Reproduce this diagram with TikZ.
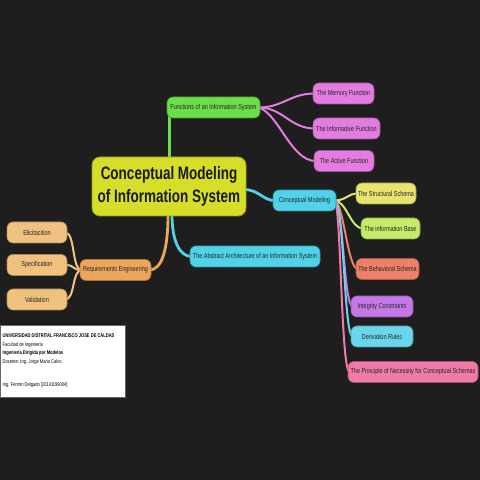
\documentclass[tikz,border=0pt]{standalone}
\usepackage{fontspec}
\setmainfont{Liberation Sans}
\newfontfamily\nodefont[FakeStretch=0.75]{Liberation Sans}
\newfontfamily\titlefont[FakeStretch=0.75]{Liberation Sans}
\usetikzlibrary{calc,backgrounds}
\definecolor{bg}{RGB}{30,30,30}
\definecolor{cyellow}{RGB}{214,222,42}
\definecolor{cgreen}{RGB}{108,222,72}
\definecolor{cpink}{RGB}{226,124,222}
\definecolor{ccyan}{RGB}{80,210,232}
\definecolor{cstr}{RGB}{232,228,112}
\definecolor{cib}{RGB}{196,236,104}
\definecolor{cbeh}{RGB}{238,128,106}
\definecolor{cic}{RGB}{198,120,232}
\definecolor{cdr}{RGB}{106,214,236}
\definecolor{cpn}{RGB}{240,122,168}
\definecolor{corange}{RGB}{236,166,92}
\definecolor{cpeach}{RGB}{240,194,128}
\begin{document}
\begin{tikzpicture}[x=1pt,y=1pt,
  box/.style={rounded corners=6pt, minimum height=21pt, inner sep=1pt,
    font=\nodefont\fontsize{7.3}{8}\selectfont, text=black!85, line width=0.6pt},
  link/.style={line width=2pt, line cap=round},
  biglink/.style={line width=2.8pt, line cap=round}]
\useasboundingbox (0,0) rectangle (480,480);

% nodes
\node[rounded corners=8pt, fill=cyellow, draw=cyellow!70!black, line width=0.8pt,
  minimum width=154pt, minimum height=59pt, inner sep=1pt, align=center,
  font=\titlefont\bfseries\fontsize{18}{23}\selectfont, text=black!90] (central) at (169,293.5)
  {Conceptual Modeling\\of Information System};
\node[box, fill=cgreen, draw=cgreen!70!black, minimum width=93pt] (func) at (213.5,372.5) {Functions of an Information System};
\node[box, fill=cpink, draw=cpink!70!black, minimum width=61pt] (mem) at (343.5,386.5) {The Memory Function};
\node[box, fill=cpink, draw=cpink!70!black, minimum width=67pt] (inf) at (346.5,351.5) {The Informative Function};
\node[box, fill=cpink, draw=cpink!70!black, minimum width=60pt] (act) at (344,319) {The Active Function};
\node[box, fill=ccyan, draw=ccyan!70!black, minimum width=63pt] (cm) at (304.5,279.5) {Conceptual Modeling};
\node[box, fill=cstr, draw=cstr!70!black, minimum width=60pt] (str) at (386,286.5) {The Structural Schema};
\node[box, fill=cib, draw=cib!70!black, minimum width=59pt] (ib) at (390.5,251.5) {The information Base};
\node[box, fill=cbeh, draw=cbeh!70!black, minimum width=63pt] (beh) at (387.5,211) {The Behavioral Schema};
\node[box, fill=cic, draw=cic!70!black, minimum width=62pt] (ic) at (382,173.5) {Integrity Constraints};
\node[box, fill=cdr, draw=cdr!70!black, minimum width=62pt] (dr) at (382,143.5) {Derivation Rules};
\node[box, fill=cpn, draw=cpn!70!black, minimum width=130pt] (pn) at (413,108) {The Principle of Necessity for Conceptual Schemas};
\node[box, fill=ccyan, draw=ccyan!70!black, minimum width=130pt] (abs) at (255,223.5) {The Abstract Architecture of an Information System};
\node[box, fill=corange, draw=corange!70!black, minimum width=71pt] (req) at (115.5,210) {Requirements Engineering};
\node[box, fill=cpeach, draw=cpeach!70!black, minimum width=60pt] (eli) at (37,247.5) {Elicitacition};
\node[box, fill=cpeach, draw=cpeach!70!black, minimum width=60pt] (spe) at (37,215) {Specification};
\node[box, fill=cpeach, draw=cpeach!70!black, minimum width=60pt] (val) at (37,180.5) {Validation};

% info box
\node[draw=black!60, fill=white, minimum width=125pt, minimum height=72pt, anchor=north west,
  inner sep=0pt, line width=0.8pt] (infobox) at (0,155) {};
\node[anchor=north west, align=left, inner sep=0pt, text=black,
  font=\nodefont\fontsize{5.4}{8.6}\selectfont] (infotext) at (2.5,146.5)
  {\textbf{UNIVERSIDAD DISTRITAL FRANCISCO JOSE DE CALDAS}\\
   Facultad de Ingeniería\\
   \textbf{Ingeniería Dirigida por Modelos}\\
   Docente: Ing. Jorge Mario Calvo\\[15pt]
   Ing. Fermin Delgado [20141199004]};

\begin{scope}[on background layer]
\fill[bg] (0,0) rectangle (480,480);
% central connectors
\draw[biglink, cgreen] ($(central.north)+(0.5,-2)$) -- ($(central.north |- func.south)+(0.5,4)$);
\draw[biglink, ccyan] ($(central.east)+(-3,-3)$) .. controls +(16,0) and +(-12,0) .. ($(cm.west)+(2,0)$);
\draw[biglink, ccyan] ($(central.south)+(3,2)$) .. controls +(0,-27) and +(-12,0) .. ($(abs.west)+(2,0)$);
\draw[biglink, corange] ($(central.south)+(-1,2)$) .. controls +(0,-37) and +(12,0) .. ($(req.east)+(-2,0)$);
% functions
\draw[link, cpink] ($(func.east)+(-2,0)$) .. controls +(25,0) and +(-25,0) .. ($(mem.west)+(2,0)$);
\draw[link, cpink] ($(func.east)+(-2,0)$) .. controls +(25,0) and +(-25,0) .. ($(inf.west)+(2,0)$);
\draw[link, cpink] ($(func.east)+(-2,0)$) .. controls +(20,-5) and +(-25,0) .. ($(act.west)+(2,0)$);
% conceptual modeling
\draw[link, cstr] ($(cm.east)+(-2,0)$) .. controls +(12,0) and +(-10,0) .. ($(str.west)+(2,0)$);
\draw[link, cib] ($(cm.east)+(-2,0)$) .. controls +(12,0) and +(-12,0) .. ($(ib.west)+(2,0)$);
\draw[link, cbeh] ($(cm.east)+(-2,0)$) .. controls +(9,0) and +(-10,0) .. ($(beh.west)+(2,0)$);
\draw[link, cic] ($(cm.east)+(-2,0)$) .. controls +(9,0) and +(-9,0) .. ($(ic.west)+(2,0)$);
\draw[link, cdr] ($(cm.east)+(-2,0)$) .. controls +(10,0) and +(-9,0) .. ($(dr.west)+(2,0)$);
\draw[link, cpn] ($(cm.east)+(-2,0)$) .. controls +(7,0) and +(-9,0) .. ($(pn.west)+(2,0)$);
% requirements
\draw[link, cpeach] ($(req.west)+(2,0)$) .. controls +(-10,0) and +(10,0) .. ($(eli.east)+(-2,0)$);
\draw[link, cpeach] ($(req.west)+(2,0)$) .. controls +(-10,0) and +(10,0) .. ($(spe.east)+(-2,0)$);
\draw[link, cpeach] ($(req.west)+(2,0)$) .. controls +(-10,0) and +(10,0) .. ($(val.east)+(-2,0)$);
\end{scope}
\end{tikzpicture}
\end{document}
